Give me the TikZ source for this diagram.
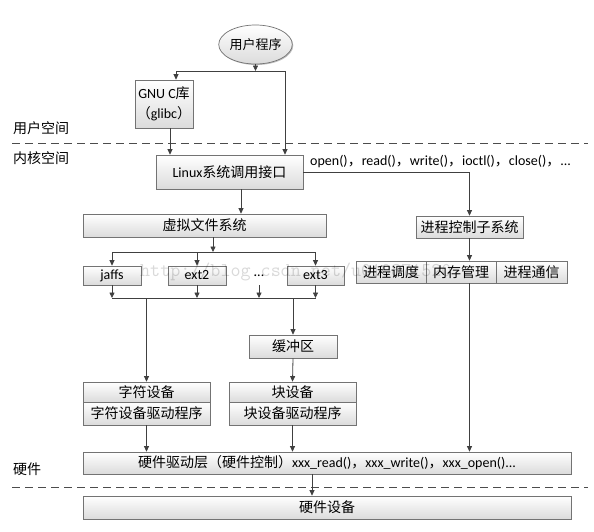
\documentclass[tikz,border=0pt]{standalone}
\usepackage{fontspec}
\setmainfont{Carlito}
\newfontfamily\cjk{Noto Sans CJK SC}
\usetikzlibrary{arrows.meta,shadows,shapes.geometric}
\begin{document}
\begin{tikzpicture}[x=1pt,y=-1pt,
  font=\fontsize{14}{16.5}\selectfont,
  box/.style={draw=black!55, line width=0.7pt, top color=white, bottom color=black!14,
    inner sep=0pt, drop shadow={shadow xshift=1pt,shadow yshift=-1pt,opacity=0.25,fill=black}},
  sz/.style 2 args={minimum width=#1pt, minimum height=#2pt},
  conn/.style={draw=black!75, line width=0.8pt},
  arr/.style={conn, -{Triangle[length=5.5pt,width=5pt]}},
  sep/.style={draw=black!70, line width=1pt, dash pattern=on 8pt off 5pt},
  lab/.style={anchor=west, inner sep=0pt}]
\fill[white] (0,0) rectangle (594,531);
\useasboundingbox (0,0) rectangle (594,531);

% separators
\coordinate (d1a) at (12,143); \coordinate (d1b) at (588,143);
\coordinate (d2a) at (12,487); \coordinate (d2b) at (588,487);
\draw[sep] (d1a) -- (d1b);
\draw[sep] (d2a) -- (d2b);

% labels
\node[lab] (lu) at (13,128) {\cjk 用户空间};
\node[lab] (lk) at (13,158) {\cjk 内核空间};
\node[lab] (lh) at (13,469) {\cjk 硬件};

% nodes
\node[box, ellipse, sz={73}{39}] (user) at (255.5,44.5) {\fontsize{13}{15}\selectfont\cjk 用户程序};
\node[box, sz={58}{48}, align=center] (glibc) at (164,104) {GNU C{\cjk 库}\\[3pt]{\cjk （}glibc{\cjk ）}};
\node[box, sz={147}{34}] (linux) at (229.5,172) {Linux{\cjk 系统调用接口}};
\node[lab] (calls) at (310,162) {open(){\cjk ，}read(){\cjk ，}write(){\cjk ，}ioctl(){\cjk ，}close(){\cjk ，}...};
\node[box, sz={243}{23}] (vfs) at (204.5,225.5) {\cjk 虚拟文件系统};
\node[box, sz={58}{19}] (jaffs) at (112,275.5) {jaffs};
\node[box, sz={58}{19}] (ext2) at (197,275.5) {ext2};
\node[inner sep=0pt, minimum height=19pt] (dots) at (259,275.5) {...};
\node[box, sz={57}{19}] (ext3) at (315.5,275.5) {ext3};
\node[box, sz={88}{23}] (buf) at (293,346.5) {\cjk 缓冲区};
\node[box, sz={127}{20}] (chr) at (146.5,392) {\cjk 字符设备};
\node[box, sz={127}{23}] (chrd) at (146.5,413.5) {\cjk 字符设备驱动程序};
\node[box, sz={127}{20}] (blk) at (292.5,392) {\cjk 块设备};
\node[box, sz={127}{23}] (blkd) at (292.5,413.5) {\cjk 块设备驱动程序};
\node[box, sz={107}{22}] (proc) at (469.5,227) {\cjk 进程控制子系统};
\node[box, sz={70}{22}] (sched) at (391,272) {\cjk 进程调度};
\node[box, sz={70}{22}] (mem) at (461,272) {\cjk 内存管理};
\node[box, sz={71}{22}] (ipc) at (531.5,272) {\cjk 进程通信};
\node[box, sz={488}{22}] (hwl) at (327,463) {{\cjk 硬件驱动层（硬件控制）}xxx\_read(){\cjk ，}xxx\_write(){\cjk ，}xxx\_open()...};
\node[box, sz={488}{23}] (hw) at (327,507.5) {\cjk 硬件设备};

% connectors: top
\coordinate (j0) at (255.5,71);
\coordinate (j0l) at (176,71);
\coordinate (j0r) at (285,71);
\draw[arr] (user.south) -- (j0);
\draw[conn] (j0l) -- (j0r);
\draw[arr] (j0l) -- (j0l |- glibc.north);
\draw[arr] (j0r) -- (j0r |- linux.north);
\coordinate (g1) at ([xshift=6pt]glibc.south);
\draw[arr] (g1) -- (g1 |- linux.north);

% process branch
\draw[arr] (linux.east) -| (proc.north);
\draw[arr] (proc.south) -- (proc.south |- mem.north);
\draw[arr] (proc.south |- mem.south) -- (proc.south |- hwl.north);

% vfs branch
\coordinate (l1) at ([xshift=11.5pt]linux.south);
\draw[arr] (l1) -- (l1 |- vfs.north);
\coordinate (v1) at ([xshift=8.5pt]vfs.south);
\coordinate (jv) at (213,252);
\draw[arr] (v1) -- (jv);
\draw[conn] (jaffs.north |- jv) -- (ext3.north |- jv);
\draw[arr] (jaffs.north |- jv) -- (jaffs.north);
\draw[arr] (ext2.north |- jv) -- (ext2.north);
\draw[arr] (ext3.north |- jv) -- (ext3.north);
\coordinate (jb) at (213,298);
\draw[arr] (jaffs.south) -- (jaffs.south |- jb);
\draw[arr] (ext2.south) -- (ext2.south |- jb);
\draw[arr] (dots.south) -- (dots.south |- jb);
\draw[arr] (ext3.south) -- (ext3.south |- jb);
\draw[conn] (jaffs.south |- jb) -- (ext3.south |- jb);
\draw[arr] (chr.north |- jb) -- (chr.north);
\draw[arr] (buf.north |- jb) -- (buf.north);
\draw[arr] (buf.south) -- (blk.north);
\draw[arr] (chrd.south) -- (chrd.south |- hwl.north);
\draw[arr] (blkd.south) -- (blkd.south |- hwl.north);
\coordinate (h1) at ([xshift=-15pt]hwl.south);
\draw[arr] (h1) -- (h1 |- hw.north);

% watermark
\node[lab, text=black, opacity=0.15, font=\ttfamily\fontsize{19.5}{19.5}\selectfont] (wm) at (140,272) {http://blog.csdn.net/u010871520};
\end{tikzpicture}
\end{document}
